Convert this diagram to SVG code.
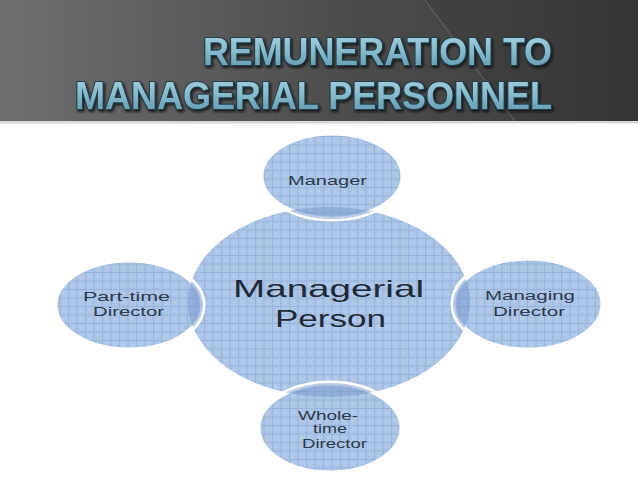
<svg xmlns="http://www.w3.org/2000/svg" width="638" height="478" viewBox="0 0 638 478">
<defs>
  <linearGradient id="hdr" x1="0" y1="0" x2="1" y2="0">
    <stop offset="0" stop-color="#6e6e6e"/>
    <stop offset="0.55" stop-color="#4c4c4c"/>
    <stop offset="1" stop-color="#3a3a3a"/>
  </linearGradient>
  <linearGradient id="ttl" x1="0" y1="0" x2="0" y2="1">
    <stop offset="0" stop-color="#a9d3e3"/>
    <stop offset="0.5" stop-color="#86bacd"/>
    <stop offset="1" stop-color="#5a93a9"/>
  </linearGradient>
  <filter id="shd" x="-5%" y="-20%" width="110%" height="150%">
    <feDropShadow dx="1.5" dy="2" stdDeviation="1.2" flood-color="#111" flood-opacity="0.85"/>
  </filter>
  <pattern id="grid" width="8.5" height="8.5" patternUnits="userSpaceOnUse">
    <rect width="8.5" height="8.5" fill="#adc6e7"/>
    <path d="M0 0.5H8.5M0.5 0V8.5" stroke="#98b3db" stroke-width="1"/>
    <circle cx="4.5" cy="4.5" r="0.8" fill="#c4d7ef"/>
  </pattern>
  <clipPath id="cMgr"><ellipse cx="332" cy="176" rx="71" ry="43"/></clipPath>
  <clipPath id="cPt"><ellipse cx="129" cy="305" rx="74" ry="45"/></clipPath>
  <clipPath id="cMd"><ellipse cx="528" cy="304" rx="75" ry="46"/></clipPath>
  <clipPath id="cWt"><ellipse cx="330" cy="428" rx="72" ry="45"/></clipPath>
  <style>
    .sat{fill:url(#grid);stroke:#ffffff;stroke-width:5}
    .band{fill:#7596cc;opacity:0.5}
    .lbl{font-family:"Liberation Sans",Arial,sans-serif;font-size:12.5px;fill:#2c3a4c}
    .big{font-family:"Liberation Sans",Arial,sans-serif;font-size:24px;fill:#1e2a38}
    .title{font-family:"Liberation Sans",Arial,sans-serif;font-weight:bold;font-size:38.5px;fill:url(#ttl);stroke:#22404c;stroke-width:2.2;paint-order:stroke;stroke-linejoin:round;filter:url(#shd)}
  </style>
</defs>
<rect width="638" height="478" fill="#ffffff"/>
<g id="header">
  <rect x="0" y="0" width="638" height="121" fill="url(#hdr)"/>
  <polygon points="425,0 638,0 638,121 515,121" fill="#000" opacity="0.07"/>
  <line x1="425" y1="0" x2="515" y2="121" stroke="#808080" stroke-width="1" opacity="0.6"/>
  <rect x="0" y="121" width="638" height="2.5" fill="#d8d8d8"/>
  <text class="title" x="552" y="65" text-anchor="end" textLength="349" lengthAdjust="spacingAndGlyphs">REMUNERATION TO</text>
  <text class="title" x="552" y="108.5" text-anchor="end" textLength="477" lengthAdjust="spacingAndGlyphs">MANAGERIAL PERSONNEL</text>
</g>
<g id="connectors"></g>
<g id="managerial-person">
  <ellipse cx="329" cy="302" rx="141" ry="95" fill="url(#grid)"/>
  <text class="big" x="233" y="297" textLength="191" lengthAdjust="spacingAndGlyphs">Managerial</text>
  <text class="big" x="275" y="327" textLength="111" lengthAdjust="spacingAndGlyphs">Person</text>
</g>
<g id="manager">
  <ellipse class="sat" cx="332" cy="176" rx="71" ry="43"/>
  <ellipse class="band" cx="329" cy="302" rx="141" ry="95" clip-path="url(#cMgr)"/>
  <text class="lbl" x="288" y="185" textLength="79" lengthAdjust="spacingAndGlyphs">Manager</text>
</g>
<g id="part-time-director">
  <ellipse class="sat" cx="129" cy="305" rx="74" ry="45"/>
  <ellipse class="band" cx="329" cy="302" rx="141" ry="95" clip-path="url(#cPt)"/>
  <text class="lbl" x="83" y="301" textLength="87" lengthAdjust="spacingAndGlyphs">Part-time</text>
  <text class="lbl" x="93" y="315.5" textLength="71" lengthAdjust="spacingAndGlyphs">Director</text>
</g>
<g id="managing-director">
  <ellipse class="sat" cx="528" cy="304" rx="75" ry="46"/>
  <ellipse class="band" cx="329" cy="302" rx="141" ry="95" clip-path="url(#cMd)"/>
  <text class="lbl" x="485" y="300" textLength="90" lengthAdjust="spacingAndGlyphs">Managing</text>
  <text class="lbl" x="493" y="315.5" textLength="72" lengthAdjust="spacingAndGlyphs">Director</text>
</g>
<g id="whole-time-director">
  <ellipse class="sat" cx="330" cy="428" rx="72" ry="45"/>
  <ellipse class="band" cx="329" cy="302" rx="141" ry="95" clip-path="url(#cWt)"/>
  <text class="lbl" x="298" y="420" textLength="60" lengthAdjust="spacingAndGlyphs">Whole-</text>
  <text class="lbl" x="313" y="432.5" textLength="34" lengthAdjust="spacingAndGlyphs">time</text>
  <text class="lbl" x="302" y="448" textLength="65" lengthAdjust="spacingAndGlyphs">Director</text>
</g>
</svg>
